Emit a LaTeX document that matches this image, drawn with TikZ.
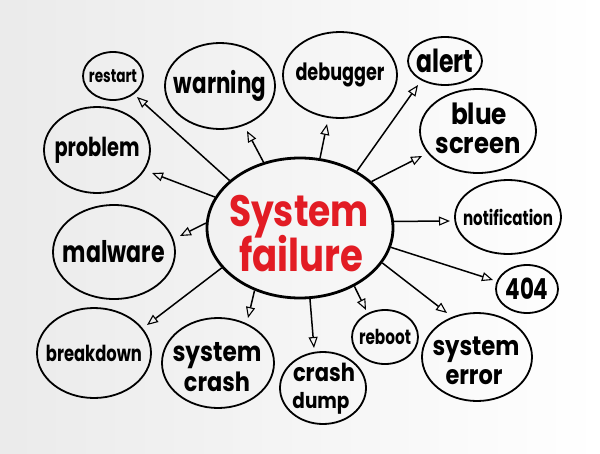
\documentclass[tikz,border=0pt]{standalone}
\usepackage{fontspec}
\setmainfont{Poppins}
\usetikzlibrary{shapes.geometric,arrows.meta}
\definecolor{hred}{RGB}{226,28,36}
\newcommand\hw[2]{\resizebox{#1pt}{!}{\scalebox{1}[1.35]{#2}}}
\newcommand\hwt[2]{\resizebox{#1pt}{!}{\scalebox{1}[1.18]{#2}}}
\newcommand\hwc[2]{\resizebox{#1pt}{!}{\scalebox{1}[1.22]{#2}}}
\begin{document}
\begin{tikzpicture}[x=1pt,y=-1pt,
  bub/.style 2 args={ellipse, draw=black, line width=1.8pt, inner sep=0pt,
    minimum width=#1pt, minimum height=#2pt},
  lbl/.style={inner sep=0pt, font=\bfseries},
  lbb/.style={inner sep=0pt, font=\bfseries, anchor=base},
  arr/.style={line width=1.5pt, -{Triangle[open,length=11pt,width=9pt,line width=1.1pt]}}]
\useasboundingbox (0,0) rectangle (600,453);
\shade[left color=gray!16, right color=white] (0,0) rectangle (600,453);

\node[bub={186}{140}, line width=2.8pt] (c) at (300,228) {};
\node[lbb, text=hred] (cT1) at (299,226) {\hwc{140}{System}};
\node[lbb, text=hred] (cT2) at (301,271) {\hwc{124}{failure}};

\node[bub={60}{48}] (restart) at (113,76) {};
\node[bub={110}{86}] (warning) at (220,86) {};
\node[bub={106}{86}] (problem) at (97,150) {};
\node[bub={114}{86}] (debugger) at (340,75) {};
\node[bub={74}{48}] (alert) at (445,61) {};
\node[bub={116}{84}] (blue) at (478,131) {};
\node[bub={106}{74}] (notif) at (508,217) {};
\node[bub={122}{94}] (malware) at (114,252) {};
\node[bub={114}{90}] (breakdown) at (94,353) {};
\node[bub={112}{90}] (crash) at (218,363) {};
\node[bub={86}{72}] (dump) at (323,388) {};
\node[bub={66}{54}] (reboot) at (385,337) {};
\node[bub={110}{88}] (error) at (477,357) {};
\node[bub={62}{48}] (e404) at (527,289) {};

\node[lbl] (restartT) at (restart) {\hw{48}{restart}};
\node[lbl] (warningT) at (warning) {\hw{92}{warning}};
\node[lbl] (problemT) at (problem) {\hw{85}{problem}};
\node[lbl] (debuggerT) at (debugger) {\hw{89}{debugger}};
\node[lbl] (alertT) at (alert) {\hw{57}{alert}};
\node[lbb] (blueT1) at (479,124) {\hwt{56}{blue}};
\node[lbb] (blueT2) at (478,153) {\hwt{85}{screen}};
\node[lbl] (notifT) at (notif) {\hw{90}{notification}};
\node[lbl] (malwareT) at (malware) {\hw{102}{malware}};
\node[lbl] (breakdownT) at (breakdown) {\hw{96}{breakdown}};
\node[lbb] (crashT1) at (217,361) {\hwt{89}{system}};
\node[lbb] (crashT2) at (217,391) {\hwt{66}{crash}};
\node[lbb] (dumpT1) at (324,381) {\hwt{62}{crash}};
\node[lbb] (dumpT2) at (321,408) {\hwt{57}{dump}};
\node[lbl] (rebootT) at (reboot) {\hw{52}{reboot}};
\node[lbb] (errorT1) at (476,355) {\hwt{87}{system}};
\node[lbb] (errorT2) at (474,384) {\hwt{57}{error}};
\node[lbl] (e404T) at (e404) {\hw{43}{404}};

\coordinate (tRestart) at (137,97);
\coordinate (tWarning) at (247,131);
\coordinate (tProblem) at (152,173);
\coordinate (tDebugger) at (327,124);
\coordinate (tAlert) at (418,85);
\coordinate (tBlue) at (422,156);
\coordinate (tNotif) at (450,221);
\coordinate (tMalware) at (180,236);
\coordinate (tBreakdown) at (147,325);
\coordinate (tCrash) at (248,318);
\coordinate (tDump) at (314,348);
\coordinate (tReboot) at (366,310);
\coordinate (tError) at (447,313);
\coordinate (t404) at (493,280);

\draw[arr] (c.146.7) -- (tRestart);
\draw[arr] (c.119.6) -- (tWarning);
\draw[arr] (c.160.4) -- (tProblem);
\draw[arr] (c.74) -- (tDebugger);
\draw[arr] (c.45.4) -- (tAlert);
\draw[arr] (c.33) -- (tBlue);
\draw[arr] (c.4) -- (tNotif);
\draw[arr] (c.177) -- (tMalware);
\draw[arr] (c.207.7) -- (tBreakdown);
\draw[arr] (c.234.5) -- (tCrash);
\draw[arr] (c.278) -- (tDump);
\draw[arr] (c.313) -- (tReboot);
\draw[arr] (c.337.5) -- (tError);
\draw[arr] (c.348) -- (t404);
\end{tikzpicture}
\end{document}
